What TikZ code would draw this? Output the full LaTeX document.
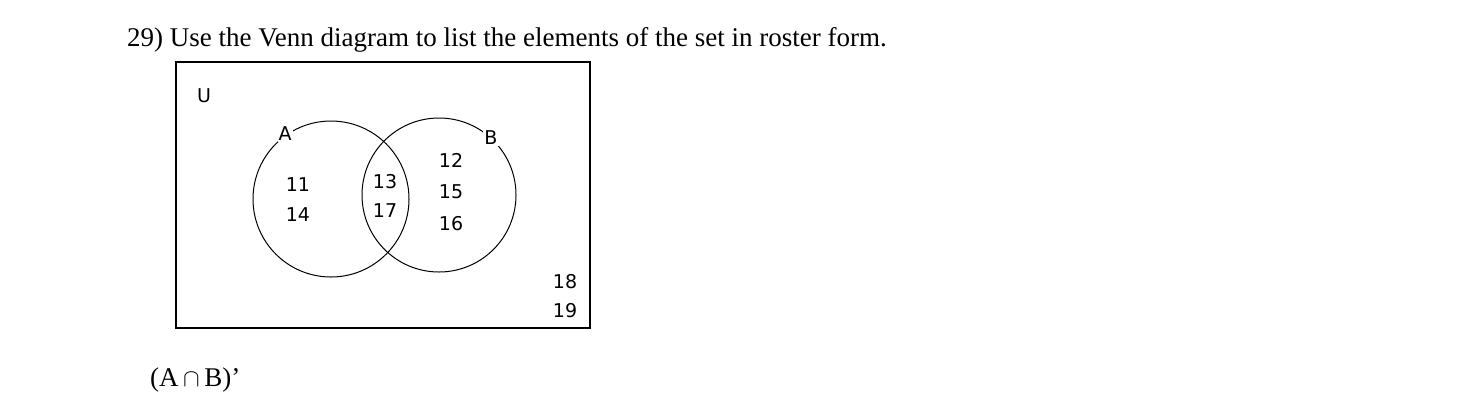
\documentclass[tikz,border=0pt]{standalone}
\usepackage{fontspec}
\setmainfont{Liberation Serif}
\setsansfont{DejaVu Sans}
\begin{document}
\begin{tikzpicture}[x=1pt,y=-1pt,
  num/.style={font=\sffamily\fontsize{19}{19}\selectfont,inner sep=0pt},
  lbl/.style={font=\sffamily\fontsize{19}{19}\selectfont,inner sep=1pt,fill=white},
  ttl/.style={font=\fontsize{27}{29}\selectfont,inner sep=0pt,anchor=west}]
\useasboundingbox (0,0) rectangle (1466,405);
\node[ttl] (t) at (127,40) {29) Use the Venn diagram to list the elements of the set in roster form.};
\node[draw,line width=1.2pt,minimum width=414pt,minimum height=266pt,inner sep=0pt] (U) at (383,195) {};
\node[draw,circle,line width=1pt,minimum size=156pt,inner sep=0pt] (A) at (331,199) {};
\node[draw,circle,line width=1pt,minimum size=154pt,inner sep=0pt] (B) at (439,195) {};
\node[num] (lu) at (204,96) {U};
\node[lbl] (la) at (285,134) {A};
\node[lbl] (lb) at (491,138) {B};
\node[num] (n11) at (298,185) {11};
\node[num] (n14) at (298,215) {14};
\node[num] (n13) at (385,182) {13};
\node[num] (n17) at (385,211) {17};
\node[num] (n12) at (451,160) {12};
\node[num] (n15) at (451,192) {15};
\node[num] (n16) at (451,224) {16};
\node[num] (n18) at (565,282) {18};
\node[num] (n19) at (565,311) {19};
\node[ttl] (q) at (150,380) {(A\,$\cap$\,B)'};
\end{tikzpicture}
\end{document}
